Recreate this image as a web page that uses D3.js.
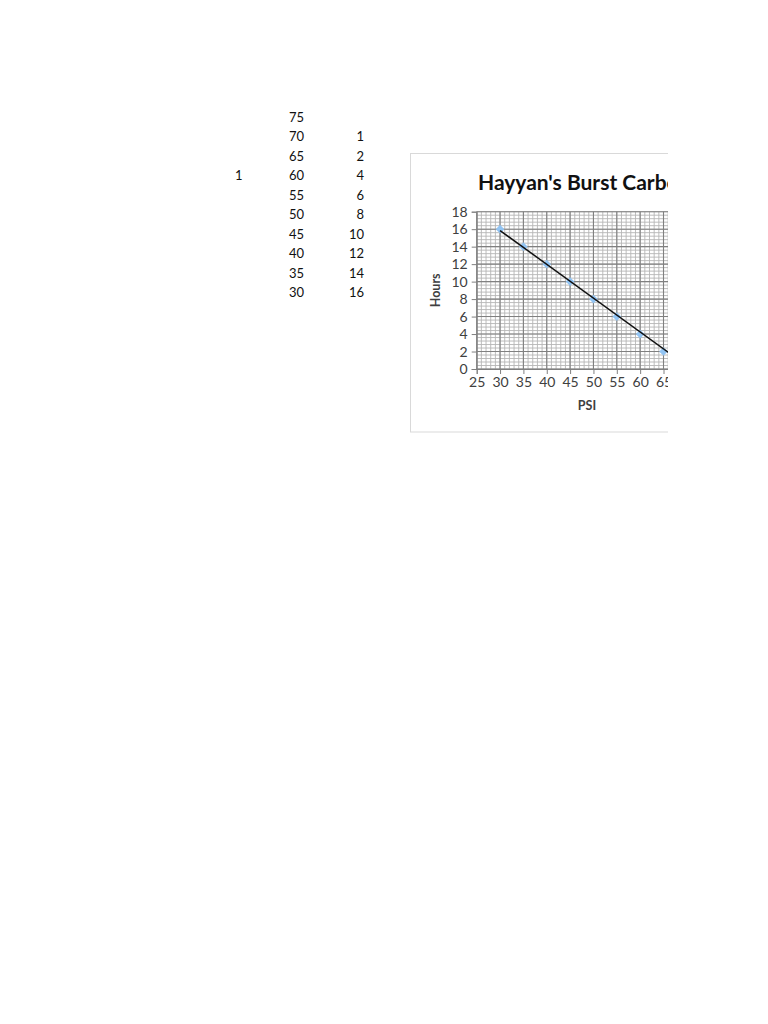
<!DOCTYPE html>
<html>
<head>
<meta charset="utf-8">
<script src="https://cdn.jsdelivr.net/npm/d3@7.9.0/dist/d3.min.js"></script>
<style>
  body { margin: 0; background: #fff; }
  svg { display: block; font-family: Lato, 'Open Sans', sans-serif; }
</style>
</head>
<body>
<svg id="page" width="768" height="1024"></svg>
<script>
// spreadsheet cells next to the chart
const sheetColA = [null, null, null, 1, null, null, null, null, null, null];
const sheetColB = [75, 70, 65, 60, 55, 50, 45, 40, 35, 30];
const sheetColC = [null, 1, 2, 4, 6, 8, 10, 12, 14, 16];

// plotted series (PSI vs Hours)
const psi = [30, 35, 40, 45, 50, 55, 60, 65, 70];
const hours = [16, 14, 12, 10, 8, 6, 4, 2, 1];

const xTicks = [25, 30, 35, 40, 45, 50, 55, 60, 65, 70, 75];
const yTicks = [0, 2, 4, 6, 8, 10, 12, 14, 16, 18];

const title = "Hayyan's Burst Carbon Dioxide";

const svg = d3.select('#page');

// ---- sheet cells
const rowY = d3.scaleLinear().domain([0, 9]).range([121.5, 297]);
const cells = svg.append('g').attr('font-size', 13).attr('fill', '#111');

cells.selectAll('text.a')
    .data(sheetColA.map((v, i) => ({ v, i })).filter(d => d.v !== null))
    .join('text')
    .attr('x', 235).attr('y', d => rowY(d.i))
    .text(d => d.v);

cells.selectAll('text.b')
    .data(sheetColB.map((v, i) => ({ v, i })))
    .join('text')
    .attr('x', 289).attr('y', d => rowY(d.i))
    .text(d => d.v);

cells.selectAll('text.c')
    .data(sheetColC.map((v, i) => ({ v, i })).filter(d => d.v !== null))
    .join('text')
    .attr('x', 364).attr('y', d => rowY(d.i))
    .attr('text-anchor', 'end')
    .text(d => d.v);

// ---- chart (cut off at the right edge like the sheet view)
svg.append('clipPath').attr('id', 'cut')
    .append('rect').attr('x', 0).attr('y', 0).attr('width', 668).attr('height', 1024);

const chart = svg.append('g').attr('clip-path', 'url(#cut)');

chart.append('rect')
    .attr('x', 410.5).attr('y', 153.5)
    .attr('width', 380).attr('height', 278.5)
    .attr('fill', '#fff').attr('stroke', '#d9d9d9');

chart.append('text')
    .attr('x', 478).attr('y', 189.5)
    .attr('font-size', 21).attr('font-weight', 'bold').attr('fill', '#111')
    .text(title);

const x = d3.scaleLinear().domain([25, 75]).range([476.7, 710.2]);
const y = d3.scaleLinear().domain([0, 18]).range([369, 211.7]);

// minor grid
const grid = chart.append('g');
grid.selectAll('line.mx')
    .data(d3.range(25, 76, 1))
    .join('line')
    .attr('x1', d => x(d)).attr('x2', d => x(d))
    .attr('y1', y(0)).attr('y2', y(18))
    .attr('stroke', '#b5b5b5').attr('stroke-width', 0.9);
grid.selectAll('line.my')
    .data(d3.range(0, 18.01, 0.4))
    .join('line')
    .attr('x1', x(25)).attr('x2', x(75))
    .attr('y1', d => y(d)).attr('y2', d => y(d))
    .attr('stroke', '#b5b5b5').attr('stroke-width', 0.9);

// major grid
grid.selectAll('line.Mx')
    .data(xTicks)
    .join('line')
    .attr('x1', d => x(d)).attr('x2', d => x(d))
    .attr('y1', y(0)).attr('y2', y(18))
    .attr('stroke', '#808080').attr('stroke-width', 1.1);
grid.selectAll('line.My')
    .data(yTicks)
    .join('line')
    .attr('x1', x(25)).attr('x2', x(75))
    .attr('y1', d => y(d)).attr('y2', d => y(d))
    .attr('stroke', '#808080').attr('stroke-width', 1.1);

// axes
const xAxis = chart.append('g')
    .attr('transform', `translate(0,${y(0)})`)
    .call(d3.axisBottom(x).tickValues(xTicks).tickSize(5).tickPadding(3));
const yAxis = chart.append('g')
    .attr('transform', `translate(${x(25)},0)`)
    .call(d3.axisLeft(y).tickValues(yTicks).tickSize(5).tickPadding(4));

[xAxis, yAxis].forEach(g => {
    g.select('.domain').attr('stroke', '#808080');
    g.selectAll('.tick line').attr('stroke', '#808080');
    g.selectAll('text')
        .attr('font-family', "Lato, 'Open Sans', sans-serif")
        .attr('font-size', 14).attr('fill', '#404040');
});

// axis titles
chart.append('text')
    .attr('transform', `translate(440,${(y(0) + y(18)) / 2}) rotate(-90)`)
    .attr('text-anchor', 'middle')
    .attr('font-size', 12.5).attr('font-weight', 'bold').attr('fill', '#404040')
    .text('Hours');
chart.append('text')
    .attr('x', 587).attr('y', 409.5)
    .attr('text-anchor', 'middle')
    .attr('font-size', 12.5).attr('font-weight', 'bold').attr('fill', '#404040')
    .text('PSI');

// markers
chart.append('g').selectAll('path')
    .data(psi.map((p, i) => [p, hours[i]]))
    .join('path')
    .attr('transform', d => `translate(${x(d[0])},${y(d[1])})`)
    .attr('d', d3.symbol(d3.symbolDiamond2, 48))
    .attr('fill', '#92c4f3');

// linear trendline (least squares)
const mx = d3.mean(psi), my = d3.mean(hours);
const slope = d3.sum(psi, (p, i) => (p - mx) * (hours[i] - my)) / d3.sum(psi, p => (p - mx) ** 2);
const trend = p => my + slope * (p - mx);
const [p0, p1] = d3.extent(psi);
chart.append('line')
    .attr('x1', x(p0)).attr('y1', y(trend(p0)))
    .attr('x2', x(p1)).attr('y2', y(trend(p1)))
    .attr('stroke', '#111').attr('stroke-width', 1.5);
</script>
</body>
</html>
